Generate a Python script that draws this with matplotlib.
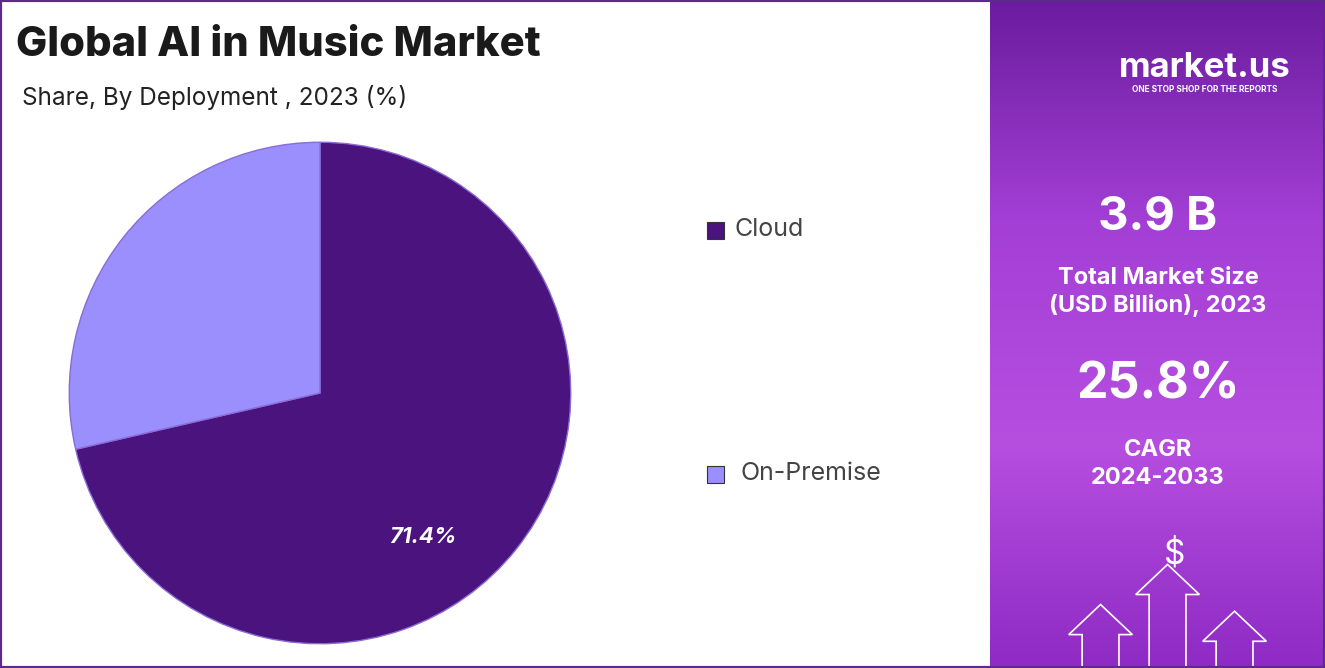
import matplotlib.pyplot as plt
import numpy as np
from matplotlib.patches import Rectangle, FancyArrow
from matplotlib.colors import LinearSegmentedColormap

labels = ["Cloud", "On-Premise"]
shares = [71.4, 28.6]
colors = ["#4b137e", "#9a8ffc"]

market_size = "3.9 B"
cagr = "25.8%"

plt.rcParams['font.family'] = ['Inter', 'DejaVu Sans']

fig = plt.figure(figsize=(13.25, 6.68), dpi=100)
W, H = 1325, 668

# pie
ax = fig.add_axes([(320 - 252) / W, 1 - (393 + 252) / H, 504 / W, 504 / H])
wedges, _ = ax.pie(shares, colors=colors, startangle=90, counterclock=False,
                   wedgeprops=dict(edgecolor="#8a6cd6", linewidth=1))
ax.set_xlim(-1.005, 1.005)
ax.set_ylim(-1.005, 1.005)
ax.set_aspect("equal")
ax.text(0.41, -0.575, f"{shares[0]}%", ha="center", va="center", color="white",
        fontsize=16, fontweight="bold", style="italic")

# titles
fig.text(16 / W, 1 - 45 / H, "Global AI in Music Market", fontsize=30, fontweight="heavy",
         color="#1a1a1a", va="center")
fig.text(22 / W, 1 - 98 / H, "Share, By Deployment , 2023 (%)", fontsize=17.5, color="#222222", va="center")

# legend
for (lab, c, y, xo) in [(labels[0], colors[0], 230, 734), (labels[1], colors[1], 474, 740)]:
    fig.patches.append(Rectangle((707 / W, 1 - (y + 9) / H), 17 / W, 17 / H, transform=fig.transFigure,
                                 facecolor=c, edgecolor="#333333", linewidth=0.8))
    fig.text(xo / W, 1 - y / H, lab, fontsize=18, color="#444444", va="center")

# right panel gradient
pax = fig.add_axes([990 / W, 0, (W - 990) / W, 1])
grad = np.linspace(0, 1, 256)[:, None]
cm = LinearSegmentedColormap.from_list("p", ["#6a1c9e", "#a43fd6", "#b64ee0", "#8e2bc4"])
pax.imshow(grad, aspect="auto", cmap=cm, extent=[0, 1, 0, 1])
pax.set_xlim(0, 1); pax.set_ylim(0, 1); pax.axis("off")
for x0, h in [(0.33, 0.05), (0.53, 0.11), (0.73, 0.04)]:
    pax.add_patch(FancyArrow(x0, 0.0, 0, h, width=0.11, head_width=0.19, head_length=0.045,
                             fill=False, edgecolor="white", linewidth=1.2))
pax.text(0.55, 0.17, "$", color="white", fontsize=24, ha="center", va="center")

cx = 1158 / W
fig.text(1205 / W, 1 - 68 / H, "market.us", fontsize=25, fontweight="bold", color="white", ha="center", va="center")
fig.text(1205 / W, 1 - 89 / H, "ONE STOP SHOP FOR THE REPORTS", fontsize=6, fontweight="bold",
         color="white", ha="center", va="center")
fig.text(cx, 1 - 217 / H, market_size, fontsize=34, fontweight="bold", color="white", ha="center", va="center")
fig.text(cx, 1 - 292 / H, "Total Market Size\n(USD Billion), 2023", fontsize=17, fontweight="bold",
         color="white", ha="center", va="center", linespacing=1.3)
fig.text(cx, 1 - 385 / H, cagr, fontsize=36, fontweight="bold", color="white", ha="center", va="center")
fig.text(cx, 1 - 464 / H, "CAGR\n2024-2033", fontsize=17, fontweight="bold",
         color="white", ha="center", va="center", linespacing=1.3)

# frame
fig.patches.append(Rectangle((0, 0), 1, 1, transform=fig.transFigure, fill=False,
                             edgecolor="#5b2a8c", linewidth=3))

fig.savefig("out.png", dpi=100)
